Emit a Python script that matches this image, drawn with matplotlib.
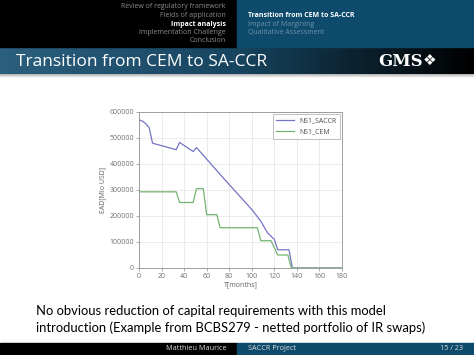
import matplotlib.pyplot as plt
import numpy as np
from matplotlib.patches import Rectangle
from matplotlib.colors import LinearSegmentedColormap

# EAD profiles (months, Mio USD)
t_saccr = [0, 3, 6, 9, 12, 33, 36, 48, 51, 75, 100, 108, 114, 120, 123, 133, 136, 180]
ead_saccr = [570000, 565000, 555000, 540000, 480000, 455000, 483000, 448000, 463000,
             345000, 225000, 180000, 135000, 110000, 70000, 70000, 0, 0]
t_cem = [0, 33, 36, 48, 51, 57, 60, 69, 72, 105, 108, 117, 123, 132, 135, 180]
ead_cem = [293000, 293000, 252000, 252000, 305000, 305000, 205000, 205000, 155000,
           155000, 105000, 105000, 50000, 50000, 0, 0]

nav_left = ["Review of regulatory framework", "Fields of application", "Impact analysis",
            "Implementation Challenge", "Conclusion"]
nav_right = ["Transition from CEM to SA-CCR", "Impact of Margining", "Qualitative Assessment"]
slide_title = "Transition from CEM to SA-CCR"
body = ["No obvious reduction of capital requirements with this model",
        "introduction (Example from BCBS279 - netted portfolio of IR swaps)"]

plt.rcParams['font.family'] = ['Open Sans', 'DejaVu Sans']
blue = '#0e4a6b'

fig = plt.figure(figsize=(4.74, 3.55), dpi=100)
bg = fig.add_axes([0, 0, 1, 1])
bg.set_xlim(0, 474)
bg.set_ylim(355, 0)
bg.axis('off')

# header bars
bg.add_patch(Rectangle((0, 0), 237, 47, color='black'))
bg.add_patch(Rectangle((237, 0), 237, 47, color=blue))
grad = np.linspace(0, 1, 256).reshape(1, -1)
cmap = LinearSegmentedColormap.from_list('bar', ['#2b5f7e', '#174560', '#000000'])
bg.imshow(grad, cmap=cmap, extent=(0, 474, 74, 47), aspect='auto')
shadow = np.linspace(0, 1, 20).reshape(-1, 1)
bg.imshow(shadow, cmap=LinearSegmentedColormap.from_list('sh', ['#b0b0b0', '#ffffff']),
          extent=(0, 474, 78, 74), aspect='auto')

for i, s in enumerate(nav_left):
    bold = (s == "Impact analysis")
    bg.text(226, 7 + i * 8.5, s, ha='right', va='center', fontsize=5,
            color='white' if bold else '#8a8a8a', fontweight='bold' if bold else 'normal')
for i, s in enumerate(nav_right):
    bg.text(248, 15.5 + i * 8.5, s, ha='left', va='center', fontsize=5,
            color='white' if i == 0 else '#6d93ab', fontweight='bold' if i == 0 else 'normal')

bg.text(16, 62, slide_title, ha='left', va='center', fontsize=12.5, color='white')
bg.text(378, 61, "GMS", ha='left', va='center', fontsize=12, color='white',
        family='DejaVu Serif', fontweight='bold')
bg.text(423, 60, "\u2756", ha='left', va='center', fontsize=11, color='white', family='DejaVu Sans')

for i, s in enumerate(body):
    bg.text(36, 311 + i * 17, s, ha='left', va='center', fontsize=9.35, color='black',
            family=['Lato', 'DejaVu Sans'])

# footer
bg.add_patch(Rectangle((0, 343), 237, 12, color='black'))
bg.add_patch(Rectangle((237, 343), 237, 12, color=blue))
bg.text(227, 349, "Matthieu Maurice", ha='right', va='center', fontsize=5.2, color='#dddddd')
bg.text(248, 349, "SACCR Project", ha='left', va='center', fontsize=5.2, color='#dddddd')
bg.text(463, 349, "15 / 23", ha='right', va='center', fontsize=5.2, color='#dddddd')

# chart
ax = fig.add_axes([139 / 474, 1 - 268 / 355, 203 / 474, 156 / 355])
ax.plot(t_saccr, ead_saccr, color='#7474c4', lw=0.9, label='NS1_SACCR')
ax.plot(t_cem, ead_cem, color='#72b472', lw=0.9, label='NS1_CEM')
ax.set_xlim(0, 180)
ax.set_ylim(0, 600000)
ax.set_xticks(range(0, 181, 20))
ax.set_yticks(range(0, 600001, 100000))
ax.grid(True, color='#e4e4e4', lw=0.5)
ax.tick_params(labelsize=5, colors='#707070', length=2, width=0.4, pad=1.5)
for sp in ax.spines.values():
    sp.set_color('#909090')
    sp.set_linewidth(0.6)
ax.set_xlabel("T[months]", fontsize=5, color='#606060', labelpad=1)
ax.set_ylabel("EAD[Mio USD]", fontsize=5, color='#606060', labelpad=2)
leg = ax.legend(loc='upper right', fontsize=5, frameon=True, fancybox=False,
                edgecolor='#909090', borderpad=0.5, handlelength=2.5, borderaxespad=0.3)
leg.get_frame().set_linewidth(0.5)
for txt in leg.get_texts():
    txt.set_color('#505050')

fig.savefig('out.png', dpi=100)
